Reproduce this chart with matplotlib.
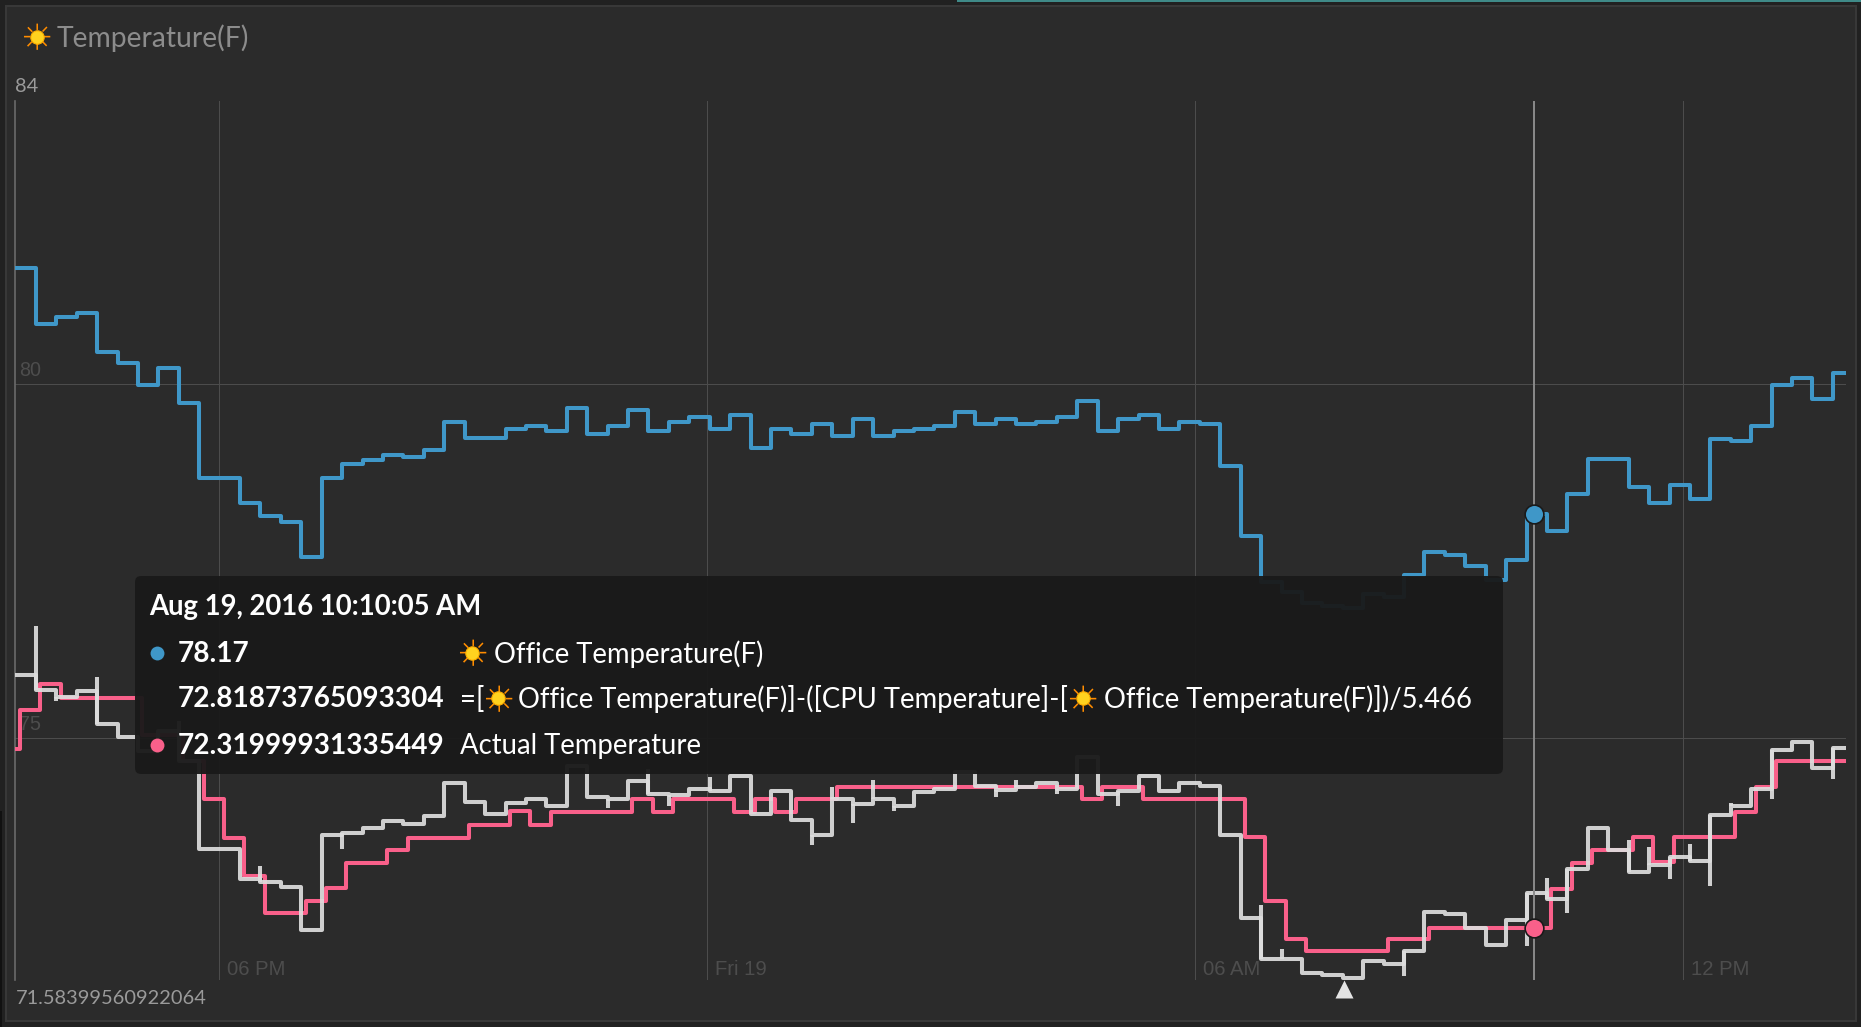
#!/usr/bin/env python3

import matplotlib
matplotlib.use('Agg')
import matplotlib.pyplot as plt
from matplotlib.patches import FancyBboxPatch, Rectangle
import numpy as np

W, H = 1861, 1027

# hours counted from midnight of Aug 18, one sample about every 15 minutes
start_hour = 15.5
end_hour = 38.0
step = 0.251
pink_lag = 0.053
cursor_hour = 34.167
cursor_actual = 72.32
low_hour = 31.825

office_temp = [
    81.63, 80.85, 80.95, 81.00, 80.45, 80.29, 79.99, 80.22, 79.73, 78.68,
    78.68, 78.32, 78.13, 78.05, 77.56, 78.67, 78.87, 78.93, 79.00, 78.97,
    79.07, 79.46, 79.24, 79.24, 79.36, 79.41, 79.33, 79.66, 79.30, 79.40,
    79.63, 79.33, 79.46, 79.53, 79.37, 79.56, 79.10, 79.37, 79.30, 79.43,
    79.26, 79.50, 79.26, 79.33, 79.37, 79.40, 79.60, 79.43, 79.50, 79.43,
    79.46, 79.53, 79.76, 79.33, 79.50, 79.56, 79.37, 79.46, 79.43, 78.84,
    77.85, 77.20, 77.07, 76.91, 76.87, 76.84, 77.03, 77.00, 77.30, 77.63,
    77.59, 77.43, 77.23, 77.52, 78.17, 77.92, 78.45, 78.94, 78.94, 78.55,
    78.32, 78.58, 78.37, 79.23, 79.20, 79.40, 79.99, 80.09, 79.79, 80.16,
]

formula_temp = [
    75.89, 75.68, 75.59, 75.67, 75.20, 75.02, 74.82, 75.10, 74.68, 73.44,
    73.44, 73.01, 72.97, 72.90, 72.30, 73.63, 73.67, 73.74, 73.83, 73.79,
    73.90, 74.37, 74.10, 73.93, 74.09, 74.14, 74.04, 74.61, 74.17, 74.14,
    74.40, 74.21, 74.20, 74.29, 74.25, 74.47, 73.93, 74.26, 73.85, 73.64,
    74.14, 74.07, 74.14, 74.04, 74.24, 74.29, 74.52, 74.33, 74.27, 74.32,
    74.37, 74.28, 74.73, 74.21, 74.26, 74.47, 74.25, 74.37, 74.33, 73.64,
    72.46, 71.88, 71.89, 71.69, 71.66, 71.62, 71.86, 71.82, 72.00, 72.55,
    72.52, 72.33, 72.08, 72.44, 72.82, 72.73, 73.16, 73.74, 73.42, 73.11,
    73.21, 73.32, 73.27, 73.92, 74.05, 74.29, 74.83, 74.95, 74.58, 74.86,
]

# short glitches of the formula series: sample index, value
spike_index = [1, 2, 4, 8, 12, 16, 29, 31, 32, 34, 39, 40, 41, 42, 43, 48, 49,
               51, 54, 61, 62, 68, 74, 75, 76, 79, 80, 81, 82, 83, 84, 86, 89]
spike_temp = [76.59, 75.52, 75.86, 75.24, 73.20, 73.44, 74.01, 74.56, 74.05,
              74.45, 73.49, 74.32, 73.80, 74.41, 73.97, 74.17, 74.41, 74.21,
              74.05, 72.65, 72.03, 71.65, 72.07, 73.03, 72.54, 73.57, 73.47,
              73.01, 73.51, 72.92, 74.09, 74.14, 74.43]

actual_temp = [
    74.85, 75.40, 75.76, 75.57, 75.57, 75.57, 75.57, 75.04, 75.04, 74.68,
    74.14, 73.60, 73.06, 72.53, 72.53, 72.70, 72.89, 73.24, 73.24, 73.42,
    73.60, 73.60, 73.60, 73.78, 73.78, 73.97, 73.78, 73.96, 73.96, 73.96,
    73.96, 74.14, 73.96, 74.14, 74.14, 74.14, 73.96, 74.14, 73.96, 74.14,
    74.14, 74.32, 74.32, 74.32, 74.32, 74.32, 74.32, 74.32, 74.32, 74.32,
    74.32, 74.32, 74.32, 74.14, 74.32, 74.32, 74.14, 74.14, 74.14, 74.14,
    74.14, 73.61, 72.71, 72.17, 72.00, 72.00, 72.00, 72.00, 72.17, 72.17,
    72.32, 72.32, 72.32, 72.32, 72.32, 72.32, 72.88, 73.24, 73.42, 73.42,
    73.61, 73.25, 73.61, 73.61, 73.61, 73.96, 74.32, 74.68, 74.68, 74.68, 74.68,
]

x_tick_hours = [18, 24, 30, 36]
x_tick_labels = ['06 PM', 'Fri 19', '06 AM', '12 PM']
y_grid_values = [75, 80]
y_grid_labels = ['75', '80']
y_min = 71.58399560922064
y_max = 84
low_marker_y = 71.46

tooltip_time = 'Aug 19, 2016 10:10:05 AM'
tooltip_values = ['78.17', '72.81873765093304', '72.31999931335449']

BLUE = '#3f97c8'
PINK = '#f9608a'
LIGHT = '#dedede'
PANEL = '#2b2b2b'
OUTER = '#212121'
GRID = '#4c4c4c'
TICK_TEXT = '#4d4d4d'
LW = 2.9

plt.rcParams['font.family'] = ['Lato', 'DejaVu Sans']

fig = plt.figure(figsize=(W / 100, H / 100), dpi=100, facecolor=OUTER)

# full figure layer measured in pixels, for the frame and the texts
back = fig.add_axes([0, 0, 1, 1], zorder=0)
back.set_xlim(0, W)
back.set_ylim(H, 0)
back.axis('off')
back.add_patch(Rectangle((6, 6), 1850, 1015, fc=PANEL, ec='#383838', lw=1.5))
back.add_patch(Rectangle((957, 0), W - 957, 2.2, fc='#3f8a88', ec='none'))
back.add_patch(Rectangle((0, 811), 2, H - 811, fc='#111111', ec='none'))

ax = fig.add_axes([15.4 / W, 1 - 980.4 / H, (1846 - 15.4) / W, (980.4 - 100.5) / H], zorder=1)
ax.patch.set_alpha(0)
ax.set_xlim(start_hour, end_hour)
ax.set_ylim(y_min, y_max)
for spine in ax.spines.values():
    spine.set_visible(False)
ax.tick_params(left=False, bottom=False, labelleft=False, labelbottom=False)
ax.set_xticks(x_tick_hours)
ax.set_yticks(y_grid_values)
ax.grid(color=GRID, linewidth=0.72)
ax.set_axisbelow(True)
ax.axvline(start_hour, color='#6a6a6a', linewidth=1.2, clip_on=False)

hours = start_hour + step * np.arange(len(office_temp))
line_style = dict(linewidth=LW, solid_joinstyle='round', solid_capstyle='butt')

ax.plot(np.append(hours, end_hour), office_temp + office_temp[-1:], drawstyle='steps-post',
        color=BLUE, zorder=3, **line_style)

actual_hours = start_hour + pink_lag + step * (np.arange(len(actual_temp)) - 1)
ax.plot(np.append(actual_hours, end_hour), actual_temp + actual_temp[-1:], drawstyle='steps-post',
        color=PINK, zorder=4, **line_style)

ax.plot(np.append(hours, end_hour), formula_temp + formula_temp[-1:], drawstyle='steps-post',
        color=LIGHT, alpha=0.92, zorder=5, **line_style)
for i, temp in zip(spike_index, spike_temp):
    ax.plot([hours[i], hours[i]], [formula_temp[i], temp], color=LIGHT, alpha=0.92,
            linewidth=LW, solid_capstyle='butt', zorder=5)

ax.axvline(cursor_hour, color='#8a8a8a', linewidth=1.4, zorder=6)
ax.plot([cursor_hour], [office_temp[74]], marker='o', ms=13.5, mfc=BLUE, mec='#1a1a1a', mew=1.2, zorder=7)
ax.plot([cursor_hour], [cursor_actual], marker='o', ms=13.5, mfc=PINK, mec='#1a1a1a', mew=1.2, zorder=7)
ax.plot([low_hour], [low_marker_y], marker='^', ms=13.5, mfc='#e4e4e4', mec='none', clip_on=False, zorder=7)

for hour, label in zip(x_tick_hours, x_tick_labels):
    ax.annotate(label, (hour, y_min), xytext=(5.8, 0.8), textcoords='offset points', color=TICK_TEXT,
                family='Liberation Sans', fontsize=14.6, va='bottom', ha='left', zorder=2)
for value, label in zip(y_grid_values, y_grid_labels):
    ax.annotate(label, (start_hour, value), xytext=(2.9, 3), textcoords='offset points', color=TICK_TEXT,
                family='Liberation Sans', fontsize=14.2, va='bottom', ha='left', zorder=2)

# top layer for the tooltip
top = fig.add_axes([0, 0, 1, 1], zorder=2)
top.set_xlim(0, W)
top.set_ylim(H, 0)
top.axis('off')
top.patch.set_alpha(0)


def draw_sun(x, y, size=26):
    top.text(x, y, '\u2600', family='DejaVu Sans', fontsize=size, color='#ff8c00', ha='center', va='center_baseline', zorder=12)
    top.plot([x], [y], marker='o', ms=size * 0.37, mfc='#ffd21f', mec='#ffae00', mew=0.8, zorder=13)


top.add_patch(FancyBboxPatch((138, 579), 1362, 192, boxstyle='round,pad=3,rounding_size=6',
                             fc='#1a1a1a', ec='none', alpha=0.96, zorder=10))

draw_sun(36.5, 36.5)
top.text(56.5, 38.5, 'Temperature(F)', color='#8c8c8c', fontsize=20.3, va='center', ha='left')
top.text(15.4, 87, '84', color='#9a9a9a', fontsize=14.4, va='center', ha='left')
top.text(15.4, 999, '71.58399560922064', color='#9a9a9a', fontsize=14.4, va='center', ha='left')

top.text(149.6, 607, tooltip_time, color='white', fontsize=19.85, fontweight='bold', va='center', ha='left', zorder=12)
row_y = [653.7, 699.3, 746]
for y, value in zip(row_y, tooltip_values):
    top.text(178, y, value, color='white', fontsize=20.2, fontweight='bold', va='center', ha='left', zorder=12)
top.plot([156.8], [row_y[0] - 1], marker='o', ms=10, mfc=BLUE, mec='none', zorder=12)
top.plot([156.8], [row_y[2] - 1], marker='o', ms=10, mfc=PINK, mec='none', zorder=12)

draw_sun(472, row_y[0] - 1)
top.text(494, row_y[0], 'Office Temperature(F)', color='white', fontsize=19.85, va='center', ha='left', zorder=12)
top.text(460, row_y[1], '=[', color='white', fontsize=19.85, va='center', ha='left', zorder=12)
draw_sun(498, row_y[1] - 1)
top.text(518, row_y[1], 'Office Temperature(F)]-([CPU Temperature]-[', color='white', fontsize=19.85, va='center', ha='left', zorder=12)
draw_sun(1082.5, row_y[1] - 1)
top.text(1104, row_y[1], 'Office Temperature(F)])/5.466', color='white', fontsize=19.85, va='center', ha='left', zorder=12)
top.text(460, row_y[2], 'Actual Temperature', color='white', fontsize=19.85, va='center', ha='left', zorder=12)

fig.savefig('out.png', dpi=100, facecolor=fig.get_facecolor())
